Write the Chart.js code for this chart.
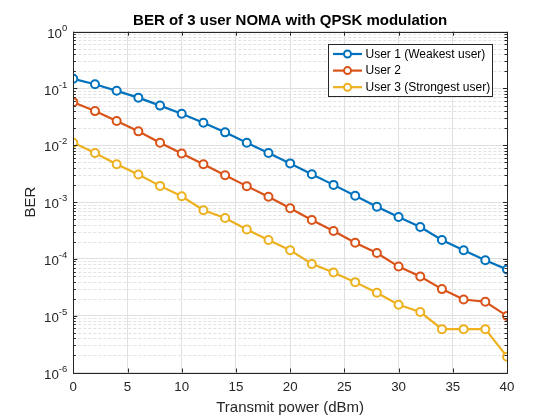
<!DOCTYPE html>
<html>
<head>
<meta charset="utf-8">
<script src="https://cdn.jsdelivr.net/npm/chart.js@4/dist/chart.umd.min.js"></script>
<style>
  html, body { margin: 0; padding: 0; background: #fff; }
  #wrap { width: 560px; height: 420px; }
</style>
</head>
<body>
<div id="wrap"><canvas id="myChart" width="560" height="420"></canvas></div>
<script>
var FONT = '"Liberation Sans", Arial, Helvetica, sans-serif';

// transmit power (dBm)
var power = [0, 2, 4, 6, 8, 10, 12, 14, 16, 18, 20, 22, 24, 26, 28, 30, 32, 34, 36, 38, 40];
var xTicks = [0, 5, 10, 15, 20, 25, 30, 35, 40];
var yExponents = [0, -1, -2, -3, -4, -5, -6];

var titleText = 'BER of 3 user NOMA with QPSK modulation';
var seriesNames = ['User 1 (Weakest user)', 'User 2', 'User 3 (Strongest user)'];
var seriesColors = ['#0072BD', '#D95319', '#EDB120'];

var user1 = [0.148, 0.119, 0.091, 0.069, 0.050, 0.036, 0.025, 0.0169, 0.0111, 0.0073, 0.0048,
             0.0031, 0.00201, 0.00129, 0.00083, 0.000546, 0.000364, 0.000215, 0.000142, 0.0000948, 0.000065];
var user2 = [0.0575, 0.040, 0.0267, 0.0176, 0.0111, 0.00715, 0.00464, 0.00298, 0.00191, 0.00124, 0.00078,
             0.000483, 0.00031, 0.000193, 0.000127, 0.0000733, 0.000049, 0.0000294, 0.0000193, 0.0000176, 0.0000099];
var user3 = [0.0111, 0.0073, 0.00464, 0.00306, 0.00193, 0.00127, 0.00072, 0.000525, 0.00033, 0.000215, 0.000142,
             0.0000817, 0.0000575, 0.000039, 0.0000253, 0.0000156, 0.0000116, 0.0000058, 0.0000058, 0.0000058, 0.0000019];

var allSeries = [user1, user2, user3];

function makeDataset(i) {
    return {
        label: seriesNames[i],
        data: allSeries[i].map(function(v, j) { return {x: power[j], y: v}; }),
        borderColor: seriesColors[i],
        backgroundColor: seriesColors[i],
        borderWidth: 2.2,
        pointRadius: 4,
        pointBorderWidth: 2,
        pointBackgroundColor: '#fff',
        pointBorderColor: seriesColors[i],
        tension: 0
    };
}

// matlab style box, minor grid, inner ticks, y labels, title and legend
var matlabAxes = {
    id: 'matlabAxes',
    beforeDatasetsDraw: function(chart) {
        var ctx = chart.ctx, a = chart.chartArea, ys = chart.scales.y;
        ctx.save();
        ctx.strokeStyle = '#e2e2e2';
        ctx.lineWidth = 1;
        ctx.setLineDash([3, 2]);
        yExponents.forEach(function(e) {
            if (e === 0) return;
            for (var m = 2; m <= 9; m++) {
                var y = Math.round(ys.getPixelForValue(m * Math.pow(10, e))) + 0.5;
                ctx.beginPath();
                ctx.moveTo(a.left, y);
                ctx.lineTo(a.right, y);
                ctx.stroke();
            }
        });
        ctx.restore();
    },
    afterDraw: function(chart) {
        var ctx = chart.ctx, a = chart.chartArea, ys = chart.scales.y, xs = chart.scales.x;
        ctx.save();
        ctx.strokeStyle = '#262626';
        ctx.lineWidth = 1;
        ctx.setLineDash([]);
        ctx.strokeRect(Math.round(a.left) + 0.5, Math.round(a.top) + 0.5,
                       Math.round(a.right - a.left), Math.round(a.bottom - a.top));

        // inner ticks
        ctx.beginPath();
        xTicks.forEach(function(t) {
            var x = Math.round(xs.getPixelForValue(t)) + 0.5;
            ctx.moveTo(x, a.bottom); ctx.lineTo(x, a.bottom - 4);
            ctx.moveTo(x, a.top); ctx.lineTo(x, a.top + 4);
        });
        yExponents.forEach(function(e) {
            for (var m = 1; m <= 9; m++) {
                if (e === 0 && m > 1) break;
                var y = Math.round(ys.getPixelForValue(m * Math.pow(10, e))) + 0.5;
                var len = m === 1 ? 4 : 2.5;
                ctx.moveTo(a.left, y); ctx.lineTo(a.left + len, y);
                ctx.moveTo(a.right, y); ctx.lineTo(a.right - len, y);
            }
        });
        ctx.stroke();

        // y tick labels 10^n
        ctx.fillStyle = '#262626';
        ctx.textBaseline = 'middle';
        yExponents.forEach(function(e) {
            var y = ys.getPixelForValue(Math.pow(10, e));
            var exp = String(e);
            ctx.font = '9.5px ' + FONT;
            var ew = ctx.measureText(exp).width;
            ctx.textAlign = 'left';
            var xr = a.left - 6;
            ctx.fillText(exp, xr - ew, y - 3.5);
            ctx.font = '13.3px ' + FONT;
            ctx.textAlign = 'right';
            ctx.fillText('10', xr - ew, y + 2.5);
        });

        // title, centred over the axes like matlab
        ctx.fillStyle = '#000';
        ctx.font = 'bold 15px ' + FONT;
        ctx.textAlign = 'center';
        ctx.textBaseline = 'alphabetic';
        ctx.fillText(titleText, (a.left + a.right) / 2, 25);

        // legend
        var lx = 328.5, ly = 44.5, lw = 164, lh = 52;
        ctx.fillStyle = '#fff';
        ctx.fillRect(lx, ly, lw, lh);
        ctx.strokeStyle = '#262626';
        ctx.lineWidth = 1;
        ctx.strokeRect(lx, ly, lw, lh);
        ctx.font = '12px ' + FONT;
        ctx.textAlign = 'left';
        ctx.textBaseline = 'middle';
        seriesNames.forEach(function(name, i) {
            var ry = 54 + i * 16.6;
            ctx.strokeStyle = seriesColors[i];
            ctx.lineWidth = 2.2;
            ctx.beginPath();
            ctx.moveTo(333, ry); ctx.lineTo(362, ry);
            ctx.stroke();
            ctx.lineWidth = 2;
            ctx.beginPath();
            ctx.arc(347.5, ry, 3.5, 0, Math.PI * 2);
            ctx.fillStyle = '#fff';
            ctx.fill();
            ctx.stroke();
            ctx.fillStyle = '#000';
            ctx.fillText(name, 365.5, ry + 0.5);
        });
        ctx.restore();
    }
};

var ctx = document.getElementById('myChart').getContext('2d');
var chart = new Chart(ctx, {
    type: 'line',
    data: {
        datasets: [makeDataset(0), makeDataset(1), makeDataset(2)]
    },
    options: {
        responsive: false,
        animation: false,
        devicePixelRatio: 1,
        layout: { padding: { left: 0, right: 53, top: 31.7, bottom: 0 } },
        plugins: {
            legend: { display: false },
            tooltip: { enabled: false },
            title: { display: false }
        },
        scales: {
            x: {
                type: 'linear',
                min: 0,
                max: 40,
                afterBuildTicks: function(scale) {
                    scale.ticks = xTicks.map(function(v) { return {value: v}; });
                },
                afterFit: function(scale) { scale.height = 47.5; },
                grid: { color: '#e0e0e0', drawTicks: false },
                border: { display: false },
                ticks: {
                    color: '#262626',
                    padding: 7,
                    maxRotation: 0,
                    font: { family: FONT, size: 13.3 }
                },
                title: {
                    display: true,
                    text: 'Transmit power (dBm)',
                    color: '#262626',
                    font: { family: FONT, size: 15 },
                    padding: { top: 2, bottom: 3 }
                }
            },
            y: {
                type: 'logarithmic',
                min: 1e-6,
                max: 1,
                afterBuildTicks: function(scale) {
                    scale.ticks = yExponents.map(function(e) { return {value: Math.pow(10, e)}; });
                },
                afterFit: function(scale) { scale.width = 73.3; },
                grid: { color: '#e0e0e0', drawTicks: false },
                border: { display: false },
                ticks: { display: false },
                title: {
                    display: true,
                    text: 'BER',
                    color: '#262626',
                    font: { family: FONT, size: 15 },
                    padding: { top: 22, bottom: 0 }
                }
            }
        }
    },
    plugins: [matlabAxes]
});
</script>
</body>
</html>
